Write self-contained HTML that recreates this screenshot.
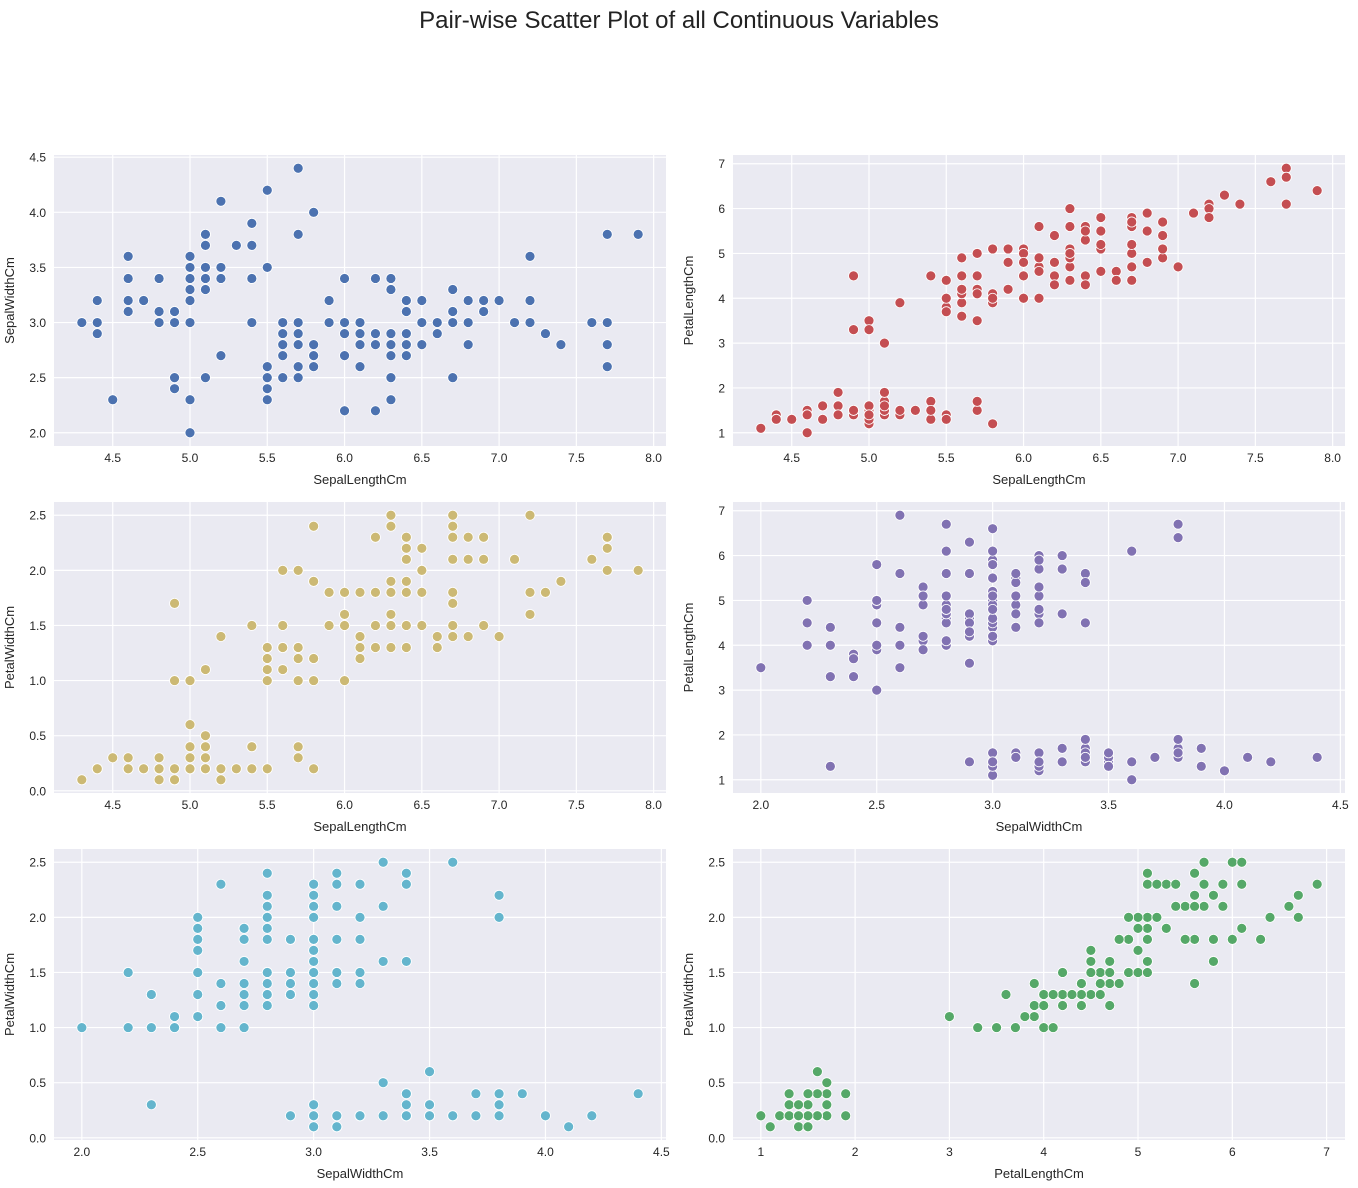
<!DOCTYPE html>
<html><head><meta charset="utf-8"><style>
body{margin:0;background:#fff;}
svg{display:block;font-family:"Liberation Sans","DejaVu Sans",sans-serif;}
</style></head><body>
<svg id="fig" width="1358" height="1188" viewBox="0 0 1358 1188">
<text x="679" y="28" font-size="24" text-anchor="middle" fill="#222">Pair-wise Scatter Plot of all Continuous Variables</text>
</svg>
<script>
const sepalLength=[5.1,4.9,4.7,4.6,5.0,5.4,4.6,5.0,4.4,4.9,5.4,4.8,4.8,4.3,5.8,5.7,5.4,5.1,5.7,5.1,5.4,5.1,4.6,5.1,4.8,5.0,5.0,5.2,5.2,4.7,4.8,5.4,5.2,5.5,4.9,5.0,5.5,4.9,4.4,5.1,5.0,4.5,4.4,5.0,5.1,4.8,5.1,4.6,5.3,5.0,
7.0,6.4,6.9,5.5,6.5,5.7,6.3,4.9,6.6,5.2,5.0,5.9,6.0,6.1,5.6,6.7,5.6,5.8,6.2,5.6,5.9,6.1,6.3,6.1,6.4,6.6,6.8,6.7,6.0,5.7,5.5,5.5,5.8,6.0,5.4,6.0,6.7,6.3,5.6,5.5,5.5,6.1,5.8,5.0,5.6,5.7,5.7,6.2,5.1,5.7,
6.3,5.8,7.1,6.3,6.5,7.6,4.9,7.3,6.7,7.2,6.5,6.4,6.8,5.7,5.8,6.4,6.5,7.7,7.7,6.0,6.9,5.6,7.7,6.3,6.7,7.2,6.2,6.1,6.4,7.2,7.4,7.9,6.4,6.3,6.1,7.7,6.3,6.4,6.0,6.9,6.7,6.9,5.8,6.8,6.7,6.7,6.3,6.5,6.2,5.9];
const sepalWidth=[3.5,3.0,3.2,3.1,3.6,3.9,3.4,3.4,2.9,3.1,3.7,3.4,3.0,3.0,4.0,4.4,3.9,3.5,3.8,3.8,3.4,3.7,3.6,3.3,3.4,3.0,3.4,3.5,3.4,3.2,3.1,3.4,4.1,4.2,3.1,3.2,3.5,3.1,3.0,3.4,3.5,2.3,3.2,3.5,3.8,3.0,3.8,3.2,3.7,3.3,
3.2,3.2,3.1,2.3,2.8,2.8,3.3,2.4,2.9,2.7,2.0,3.0,2.2,2.9,2.9,3.1,3.0,2.7,2.2,2.5,3.2,2.8,2.5,2.8,2.9,3.0,2.8,3.0,2.9,2.6,2.4,2.4,2.7,2.7,3.0,3.4,3.1,2.3,3.0,2.5,2.6,3.0,2.6,2.3,2.7,3.0,2.9,2.9,2.5,2.8,
3.3,2.7,3.0,2.9,3.0,3.0,2.5,2.9,2.5,3.6,3.2,2.7,3.0,2.5,2.8,3.2,3.0,3.8,2.6,2.2,3.2,2.8,2.8,2.7,3.3,3.2,2.8,3.0,2.8,3.0,2.8,3.8,2.8,2.8,2.6,3.0,3.4,3.1,3.0,3.1,3.1,3.1,2.7,3.2,3.3,3.0,2.5,3.0,3.4,3.0];
const petalLength=[1.4,1.4,1.3,1.5,1.4,1.7,1.4,1.5,1.4,1.5,1.5,1.6,1.4,1.1,1.2,1.5,1.3,1.4,1.7,1.5,1.7,1.5,1.0,1.7,1.9,1.6,1.6,1.5,1.4,1.6,1.6,1.5,1.5,1.4,1.5,1.2,1.3,1.5,1.3,1.5,1.3,1.3,1.3,1.6,1.9,1.4,1.6,1.4,1.5,1.4,
4.7,4.5,4.9,4.0,4.6,4.5,4.7,3.3,4.6,3.9,3.5,4.2,4.0,4.7,3.6,4.4,4.5,4.1,4.5,3.9,4.8,4.0,4.9,4.7,4.3,4.4,4.8,5.0,4.5,3.5,3.8,3.7,3.9,5.1,4.5,4.5,4.7,4.4,4.1,4.0,4.4,4.6,4.0,3.3,4.2,4.2,4.2,4.3,3.0,4.1,
6.0,5.1,5.9,5.6,5.8,6.6,4.5,6.3,5.8,6.1,5.1,5.3,5.5,5.0,5.1,5.3,5.5,6.7,6.9,5.0,5.7,4.9,6.7,4.9,5.7,6.0,4.8,4.9,5.6,5.8,6.1,6.4,5.6,5.1,5.6,6.1,5.6,5.5,4.8,5.4,5.6,5.1,5.1,5.9,5.7,5.2,5.0,5.2,5.4,5.1];
const petalWidth=[0.2,0.2,0.2,0.2,0.2,0.4,0.3,0.2,0.2,0.1,0.2,0.2,0.1,0.1,0.2,0.4,0.4,0.3,0.3,0.3,0.2,0.4,0.2,0.5,0.2,0.2,0.4,0.2,0.2,0.2,0.2,0.4,0.1,0.2,0.1,0.2,0.2,0.1,0.2,0.2,0.3,0.3,0.2,0.6,0.4,0.3,0.2,0.2,0.2,0.2,
1.4,1.5,1.5,1.3,1.5,1.3,1.6,1.0,1.3,1.4,1.0,1.5,1.0,1.4,1.3,1.4,1.5,1.0,1.5,1.1,1.8,1.3,1.5,1.2,1.3,1.4,1.4,1.7,1.5,1.0,1.1,1.0,1.2,1.6,1.5,1.6,1.5,1.3,1.3,1.3,1.2,1.4,1.2,1.0,1.3,1.2,1.3,1.3,1.1,1.3,
2.5,1.9,2.1,1.8,2.2,2.1,1.7,1.8,1.8,2.5,2.0,1.9,2.1,2.0,2.4,2.3,1.8,2.2,2.3,1.5,2.3,2.0,2.0,1.8,2.1,1.8,1.8,1.8,2.1,1.6,1.9,2.0,2.2,1.5,1.4,2.3,2.4,1.8,1.8,2.1,2.4,2.3,1.9,2.3,2.5,2.3,1.9,2.0,2.3,1.8];
const slTicks=["4.5","5.0","5.5","6.0","6.5","7.0","7.5","8.0"];
const swTicks=["2.0","2.5","3.0","3.5","4.0","4.5"];
const plTicks=["1","2","3","4","5","6","7"];
const pwTicks=["0.0","0.5","1.0","1.5","2.0","2.5"];

const vars={
  SepalLengthCm:{data:sepalLength,ticks:slTicks},
  SepalWidthCm:{data:sepalWidth,ticks:swTicks},
  PetalLengthCm:{data:petalLength,ticks:plTicks},
  PetalWidthCm:{data:petalWidth,ticks:pwTicks}
};
const panels=[
  ["SepalLengthCm","SepalWidthCm","#4c72b0",54,155,"scatter-sepal-length-vs-sepal-width"],
  ["SepalLengthCm","PetalLengthCm","#c44e52",733,155,"scatter-sepal-length-vs-petal-length"],
  ["SepalLengthCm","PetalWidthCm","#ccb974",54,502,"scatter-sepal-length-vs-petal-width"],
  ["SepalWidthCm","PetalLengthCm","#8172b2",733,502,"scatter-sepal-width-vs-petal-length"],
  ["SepalWidthCm","PetalWidthCm","#64b5cd",54,849,"scatter-sepal-width-vs-petal-width"],
  ["PetalLengthCm","PetalWidthCm","#55a868",733,849,"scatter-petal-length-vs-petal-width"]
];
const W=612,H=291,NS="http://www.w3.org/2000/svg";
const svg=document.getElementById('fig');
function mk(tag,attrs,parent){const e=document.createElementNS(NS,tag);for(const k in attrs)e.setAttribute(k,attrs[k]);parent.appendChild(e);return e;}
function scale(arr,a,b){const mn=Math.min(...arr),mx=Math.max(...arr),m=(mx-mn)*0.05,lo=mn-m,hi=mx+m;return v=>a+(v-lo)/(hi-lo)*(b-a);}
panels.forEach(p=>{
  const [xn,yn,col,x0,y0,name]=p;
  const X=vars[xn],Y=vars[yn];
  const g=mk('g',{},svg);
  
  
  const bg=mk('rect',{x:x0,y:y0,width:W,height:H,fill:'#eaeaf2'},g);
  
  
  const sx=scale(X.data,x0,x0+W),sy=scale(Y.data,y0+H,y0);
  X.ticks.forEach(t=>{const x=sx(+t);
    const l=mk('line',{x1:x,x2:x,y1:y0,y2:y0+H,stroke:'#fff','stroke-width':1.2},g);
    
    
    const tx=mk('text',{x:x,y:y0+H+16,'font-size':12,'text-anchor':'middle',fill:'#262626'},g);tx.textContent=t;
    
    
  });
  Y.ticks.forEach(t=>{const y=sy(+t);
    const l=mk('line',{x1:x0,x2:x0+W,y1:y,y2:y,stroke:'#fff','stroke-width':1.2},g);
    
    
    const tx=mk('text',{x:x0-8,y:y+4.5,'font-size':12,'text-anchor':'end',fill:'#262626'},g);tx.textContent=t;
    
    
  });
  X.data.forEach((v,i)=>{
    const c=mk('circle',{cx:sx(v),cy:sy(Y.data[i]),r:5,fill:col,stroke:'#fff','stroke-width':0.8},g);
    
    
  });
  const xl=mk('text',{x:x0+W/2,y:y0+H+38,'font-size':13,'text-anchor':'middle',fill:'#262626'},g);xl.textContent=xn;
  
  
  const yc=y0+H/2,xc=x0-40;
  const yl=mk('text',{x:xc,y:yc,'font-size':13,'text-anchor':'middle',fill:'#262626',transform:`rotate(-90 ${xc} ${yc})`},g);yl.textContent=yn;
  
  
});
</script>
</body></html>
